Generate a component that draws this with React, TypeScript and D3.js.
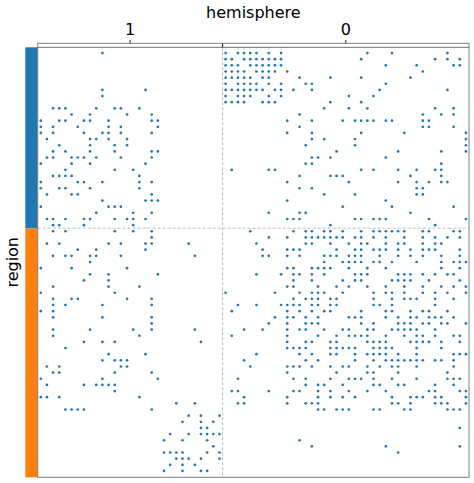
import React from "react";
import * as d3 from "d3";

const hemisphereLabels = ["1", "0"];
const hemisphereSizes = [30, 40];
const regionSizes = [30, 40];
const regionColors = ["#1f77b4", "#ff7f0e"];
const nNodes = 70;

// column indices of non-zero entries, one list per row
const rowEdges: number[][] = [
  [30, 32, 33, 34, 35, 37, 39],
  [10, 30, 32, 33, 34, 35, 37, 39, 53, 57, 66],
  [30, 31, 33, 34, 35, 36, 37, 38, 39, 52, 64, 66, 68],
  [30, 31, 32, 34, 35, 36, 37, 38, 39, 56, 61, 67, 68],
  [30, 31, 32, 33, 35, 36, 37, 38, 40, 62],
  [30, 31, 32, 33, 34, 36, 37, 42, 47, 52, 60],
  [30, 32, 33, 34, 35, 37, 39, 43, 44, 56],
  [10, 17, 30, 31, 32, 33, 34, 35, 36, 38, 39, 41, 44, 55, 66],
  [10, 30, 32, 33, 34, 37, 39, 50, 54],
  [30, 31, 32, 33, 36, 37, 38, 47, 52],
  [2, 3, 4, 9, 12, 13, 16, 46, 50, 53, 64, 67],
  [5, 8, 14, 18, 42, 62, 65, 67],
  [0, 3, 4, 7, 8, 11, 18, 19, 40, 44, 49, 51, 52, 53, 54, 56, 57, 62, 63],
  [0, 2, 6, 11, 13, 19, 42, 62, 63, 67],
  [0, 2, 7, 10, 11, 13, 18, 40, 44, 52, 59, 69],
  [1, 8, 9, 11, 14, 44, 46, 51, 69],
  [3, 8, 12, 14, 43, 51, 69],
  [2, 4, 8, 12, 18, 19, 48, 58, 65, 69],
  [1, 2, 5, 6, 7, 9, 13, 18, 44, 45, 47, 56],
  [0, 5, 8, 17, 43, 44, 65],
  [4, 12, 15, 31, 37, 38, 52, 54, 58, 61, 64, 65],
  [2, 3, 4, 5, 16, 42, 47, 48, 49, 60, 65],
  [0, 6, 7, 10, 16, 18, 40, 50, 58, 61, 63, 65, 66],
  [0, 3, 4, 8, 16, 42, 44, 61, 62],
  [1, 5, 6, 18, 46, 51, 61, 62],
  [10, 17, 18, 19, 40, 56],
  [0, 11, 12, 13, 49, 57, 67],
  [9, 15, 18, 37, 42, 43, 60],
  [1, 2, 4, 7, 8, 12, 14, 15, 17, 40, 41, 42, 51, 52, 54, 55, 56, 63, 69],
  [2, 3, 7, 15, 47, 64],
  [2, 4, 12, 15, 18, 34, 41, 43, 44, 46, 47, 49, 52, 54, 55, 56, 57, 58, 59, 62, 63, 67, 68],
  [18, 37, 40, 43, 44, 45, 46, 47, 48, 49, 51, 52, 54, 56, 59, 62, 64, 66, 68],
  [1, 3, 11, 13, 17, 18, 24, 35, 43, 44, 47, 50, 52, 53, 56, 58, 59, 62, 64, 65],
  [6, 9, 17, 36, 40, 41, 42, 48, 51, 52, 54, 55, 56, 58, 60, 62, 63, 64, 68],
  [2, 4, 5, 8, 9, 13, 25, 36, 37, 40, 42, 46, 47, 48, 50, 51, 52, 55, 58, 60, 62, 65, 68],
  [8, 46, 49, 50, 51, 52, 54, 55, 57, 61, 65, 67, 68, 69],
  [0, 5, 14, 40, 41, 44, 45, 46, 47, 50, 53, 56, 65, 68],
  [8, 11, 19, 35, 39, 41, 42, 44, 46, 51, 52, 53, 58, 59, 60, 62, 64, 66, 67],
  [7, 11, 41, 44, 49, 51, 52, 57, 58, 59, 60, 63, 68],
  [2, 11, 16, 40, 41, 45, 48, 50, 53, 56, 59, 62, 65, 67, 69],
  [0, 12, 30, 38, 42, 44, 45, 46, 49, 54, 56, 57, 59, 62, 64, 66, 69],
  [2, 5, 6, 14, 18, 41, 43, 44, 45, 47, 48, 54, 57, 59, 60, 61, 64, 67],
  [2, 4, 10, 18, 32, 35, 39, 40, 41, 42, 44, 45, 47, 48, 54, 55, 57, 64],
  [0, 2, 31, 40, 42, 44, 46, 47, 52, 56, 57, 60, 62, 63, 66],
  [2, 10, 18, 38, 40, 41, 43, 45, 50, 51, 52, 56, 58, 60, 61, 63, 64, 65, 67],
  [18, 37, 40, 43, 44, 45, 52, 54, 58, 59, 60, 62, 63, 65, 66, 69],
  [2, 8, 15, 18, 25, 33, 36, 40, 42, 43, 46, 49, 50, 53, 54, 57, 58, 59, 60, 61, 64],
  [2, 16, 31, 40, 45, 48, 50, 51, 52, 53, 56, 59, 61, 62, 64, 67, 68],
  [7, 10, 12, 26, 40, 43, 44, 47, 48, 53, 54, 55, 56, 60, 61, 62, 63, 65, 68],
  [4, 40, 41, 42, 43, 47, 48, 49, 50, 51, 54, 55, 56, 57, 61, 65],
  [11, 17, 35, 42, 44, 47, 48, 51, 53, 54, 55, 56, 58, 61, 67, 68, 69],
  [10, 12, 13, 14, 33, 43, 45, 51, 54, 56, 57, 58, 59, 60, 61, 62, 64, 65, 67],
  [1, 3, 13, 14, 34, 40, 41, 42, 44, 47, 49, 50, 53, 55, 57, 58, 61, 67],
  [2, 3, 12, 18, 40, 48, 53, 54, 58, 66],
  [0, 10, 19, 32, 41, 43, 47, 50, 51, 52, 54, 57, 61, 66, 67, 68],
  [1, 7, 9, 10, 11, 12, 43, 45, 46, 49, 54, 55, 58, 59, 64, 67],
  [12, 31, 32, 37, 41, 42, 45, 47, 50, 53, 56, 63, 64, 68, 69],
  [0, 1, 3, 16, 33, 40, 45, 47, 49, 51, 57, 60, 61, 62, 64, 65, 69],
  [22, 25, 32, 33, 40, 43, 44, 45, 57, 58, 60, 64, 65, 66, 69],
  [4, 5, 6, 7, 18, 45, 46, 48, 49, 50, 54, 55, 59, 60, 66, 67, 68],
  [24, 26, 29],
  [23, 26, 28],
  [26, 27, 68],
  [21, 24, 26, 27, 28, 29],
  [20, 23, 27, 42],
  [28, 44, 56, 68],
  [20, 21, 22, 23, 27, 29, 58],
  [22, 23, 24, 26, 29],
  [21, 23, 25],
  [20, 23, 26, 27],
];

const W = 474;
const H = 483;
const left = 37.7;
const right = 469;
const top = 47.3;
const bottom = 477.3;

export default function App() {
  const x = d3.scaleLinear().domain([0, nNodes]).range([left, right]);
  const y = d3.scaleLinear().domain([0, nNodes]).range([46.9, 477.1]);

  const points: { r: number; c: number }[] = [];
  rowEdges.forEach((cols, r) => {
    Array.from(new Set(cols)).forEach((c) => points.push({ r, c }));
  });

  const hemiBounds = d3.cumsum(hemisphereSizes);
  const hemiStarts = [0, ...Array.from(hemiBounds).slice(0, -1)];
  const regBounds = d3.cumsum(regionSizes);
  const regStarts = [0, ...Array.from(regBounds).slice(0, -1)];

  const spine = "#7f7f7f";
  const font = "DejaVu Sans, sans-serif";

  return (
    <svg
      width={W}
      height={H}
      style={{ position: "absolute", left: 0, top: 0, background: "#fff" }}
      xmlns="http://www.w3.org/2000/svg"
    >
      <rect x={0} y={0} width={W} height={H} fill="#fff" />

      {/* region color bar */}
      {regionSizes.map((s, i) => {
        const y0 = i === 0 ? top : y(regStarts[i] - 0.45);
        const y1 = i === regionSizes.length - 1 ? bottom : y(regBounds[i] - 0.45);
        return (
          <rect
            key={"reg" + i}
            x={25.3}
            y={y0}
            width={left - 25.3}
            height={y1 - y0}
            fill={regionColors[i]}
          />
        );
      })}

      {/* dashed dividers */}
      {Array.from(hemiBounds)
        .slice(0, -1)
        .map((b, i) => (
          <line
            key={"vd" + i}
            x1={x(b)}
            x2={x(b)}
            y1={top}
            y2={bottom}
            stroke="#bdbdbd"
            strokeWidth={1}
            strokeDasharray="3,2"
          />
        ))}
      {Array.from(regBounds)
        .slice(0, -1)
        .map((b, i) => (
          <line
            key={"hd" + i}
            x1={left}
            x2={right}
            y1={y(b - 0.5)}
            y2={y(b - 0.5)}
            stroke="#bdbdbd"
            strokeWidth={1}
            strokeDasharray="3,2"
          />
        ))}

      {/* matrix entries */}
      {points.map((p, i) => (
        <circle
          key={i}
          cx={x(p.c + 0.5)}
          cy={y(p.r)}
          r={1.35}
          fill="#1f77b4"
        />
      ))}

      {/* main frame */}
      <rect
        x={left}
        y={top}
        width={right - left}
        height={bottom - top}
        fill="none"
        stroke={spine}
        strokeWidth={1}
      />

      {/* hemisphere strip on top */}
      <rect
        x={left}
        y={43.3}
        width={right - left}
        height={top - 43.3}
        fill="#fff"
        stroke={spine}
        strokeWidth={1}
      />
      {Array.from(hemiBounds)
        .slice(0, -1)
        .map((b, i) => (
          <line
            key={"hb" + i}
            x1={x(b)}
            x2={x(b)}
            y1={43.3}
            y2={top}
            stroke="#333"
            strokeWidth={1.2}
          />
        ))}
      {hemisphereLabels.map((lab, i) => {
        const cx = x(hemiStarts[i] + hemisphereSizes[i] / 2);
        return (
          <g key={"hl" + i}>
            <line x1={cx} x2={cx} y1={40} y2={43.3} stroke="#333" strokeWidth={1} />
            <text
              x={cx}
              y={35}
              textAnchor="middle"
              fontFamily={font}
              fontSize={16}
              fill="#000"
            >
              {lab}
            </text>
          </g>
        );
      })}

      <text
        x={(left + right) / 2}
        y={18}
        textAnchor="middle"
        fontFamily={font}
        fontSize={16}
        fill="#000"
      >
        hemisphere
      </text>
      <text
        transform={`translate(18,${(top + bottom) / 2}) rotate(-90)`}
        textAnchor="middle"
        fontFamily={font}
        fontSize={16}
        fill="#000"
      >
        region
      </text>
    </svg>
  );
}
